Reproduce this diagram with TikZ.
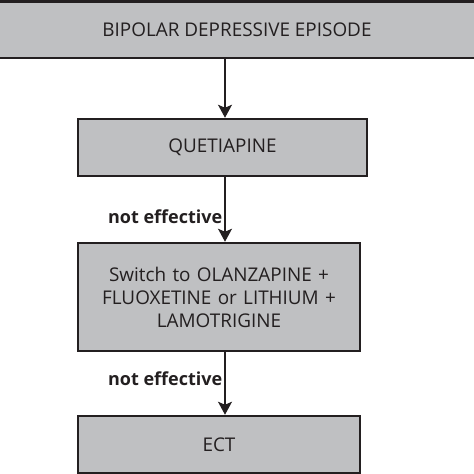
\documentclass[tikz,border=0pt]{standalone}
\usepackage{fontspec}
\setmainfont{Open Sans}
\usetikzlibrary{arrows.meta}
\definecolor{boxgray}{HTML}{BFC0C2}
\definecolor{inkdark}{HTML}{231F20}
\begin{document}
\begin{tikzpicture}[x=1pt,y=1pt,
	stepbox/.style = {rectangle,
		draw = inkdark,
		line width = 2.5pt,
		fill = boxgray,
		text = inkdark,
		font = \fontsize{18.9}{23}\selectfont,
		align = center,
		inner sep = 0pt},
	arr/.style = {-{Stealth[length=13pt,width=14pt,inset=3pt]},
		line width = 1.5pt,
		draw = inkdark},
	lbl/.style = {font = \fontsize{18}{20}\selectfont\bfseries,
		text = inkdark,
		inner sep = 2pt}]

	\useasboundingbox (0,0) rectangle (474,-474);

	\node[stepbox, minimum width = 490pt, minimum height = 56.5pt] (episode) at (237,-29.5) {BIPOLAR DEPRESSIVE EPISODE};
	\node[stepbox, minimum width = 289pt, minimum height = 57pt] (quet) at (222.5,-147.5) {QUETIAPINE};
	\node[stepbox, minimum width = 282pt, minimum height = 108pt, text width = 275pt] (switch) at (219,-297)
		{Switch to OLANZAPINE +\\ FLUOXETINE or LITHIUM +\\ LAMOTRIGINE};
	\node[stepbox, minimum width = 282pt, minimum height = 57pt] (ect) at (219,-444.5) {ECT};

	\coordinate (spine) at (225,0);

	\draw[arr] (episode.south -| spine) -- (quet.north -| spine);
	\draw[arr] (quet.south -| spine) -- node[lbl, left, pos = 0.61] (ne1) {not effective} (switch.north -| spine);
	\draw[arr] (switch.south -| spine) -- node[lbl, left, pos = 0.43] (ne2) {not effective} (ect.north -| spine);

\end{tikzpicture}
\end{document}
